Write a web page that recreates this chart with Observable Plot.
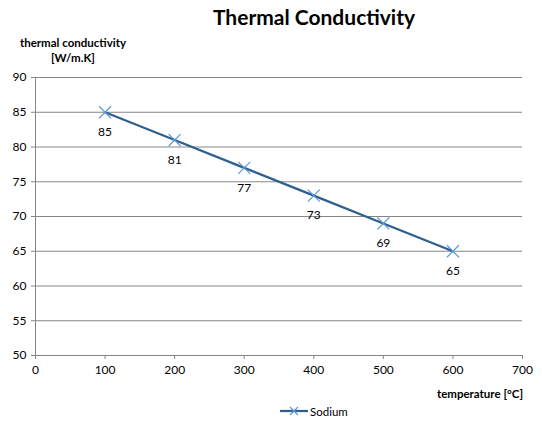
<!DOCTYPE html>
<html><head><meta charset="utf-8">
<script src="https://cdn.jsdelivr.net/npm/d3@7"></script>
<script src="https://cdn.jsdelivr.net/npm/@observablehq/plot@0.6"></script>
<style>
body{margin:0;background:#fff;font-family:Lato,"Open Sans",sans-serif;}
#wrap{position:relative;width:542px;height:427px;}
.abs{position:absolute;white-space:nowrap;color:#000;}
</style></head><body>
<div id="wrap"></div>
<script>
const temperature = [100, 200, 300, 400, 500, 600];
const conductivity = [85, 81, 77, 73, 69, 65];
const xTicks = [0, 100, 200, 300, 400, 500, 600, 700];
const yTicks = [50, 55, 60, 65, 70, 75, 80, 85, 90];
const title = "Thermal Conductivity";
const yLabel = ["thermal conductivity", "[W/m.K]"];
const xLabel = "temperature [°C]";
const seriesName = "Sodium";

const data = temperature.map((t, i) => ({t, k: conductivity[i]}));
const lineColor = "#2f5e91";
const markColor = "#5b9bd5";
const gray = "#868686";

const chart = Plot.plot({
  width: 542, height: 427,
  marginLeft: 35, marginRight: 20, marginTop: 77, marginBottom: 72,
  style: {fontFamily: "Lato, sans-serif", fontSize: "12px", color: "#000", background: "#fff"},
  x: {domain: [0, 700], ticks: xTicks},
  y: {domain: [50, 90], ticks: yTicks},
  marks: [
    Plot.gridY(yTicks.filter(v => v > 50), {stroke: gray, strokeOpacity: 1}),
    Plot.ruleX([0], {stroke: gray}),
    Plot.ruleY([50], {stroke: gray}),
    Plot.axisY(yTicks, {tickSize: 4, tickPadding: 5, stroke: gray, fill: "#000", label: null}),
    Plot.axisX(xTicks, {tickSize: 4, tickPadding: 6, stroke: gray, fill: "#000", label: null}),
    Plot.line(data, {x: "t", y: "k", stroke: lineColor, strokeWidth: 2.25}),
    Plot.dot(data, {x: "t", y: "k", symbol: "times", r: 5.5, stroke: markColor, strokeWidth: 1.2}),
    Plot.text(data, {x: "t", y: "k", text: d => String(d.k), dy: 20, fill: "#000", fontSize: 12})
  ]
});
const wrap = document.getElementById("wrap");
wrap.appendChild(chart);

function addText(txt, css) {
  const d = document.createElement("div");
  d.className = "abs";
  d.textContent = txt;
  Object.assign(d.style, css);
  wrap.appendChild(d);
  return d;
}
addText(title, {left: "0px", width: "628px", textAlign: "center", top: "4px", fontSize: "21px", fontWeight: "bold"});
addText(yLabel[0], {left: "0px", width: "146px", textAlign: "center", top: "36px", fontSize: "11.5px", fontWeight: "bold"});
addText(yLabel[1], {left: "0px", width: "146px", textAlign: "center", top: "51px", fontSize: "11.5px", fontWeight: "bold"});
addText(xLabel, {right: "19px", top: "387px", fontSize: "11.5px", fontWeight: "bold"});

const leg = document.createElement("div");
leg.className = "abs";
Object.assign(leg.style, {left: "280px", top: "404px", fontSize: "11.5px", display: "flex", alignItems: "center"});
leg.innerHTML = `<svg width="28" height="14" style="margin-right:2px"><line x1="0" x2="28" y1="7" y2="7" stroke="${lineColor}" stroke-width="2.25"/><path d="M10,3L18,11M18,3L10,11" stroke="${markColor}" stroke-width="1.2"/></svg><span>${seriesName}</span>`;
wrap.appendChild(leg);
</script>
</body></html>
